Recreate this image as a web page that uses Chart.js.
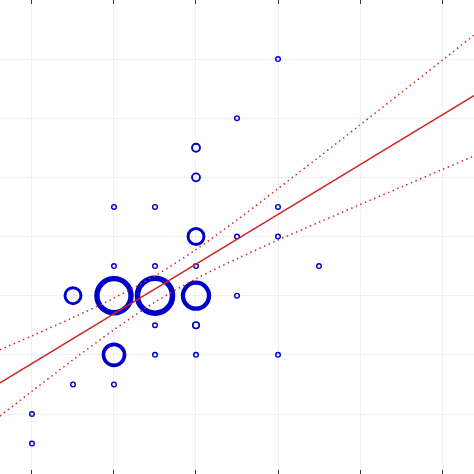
<!DOCTYPE html>
<html>
<head>
<meta charset="utf-8">
<script src="https://cdn.jsdelivr.net/npm/chart.js@4/dist/chart.umd.min.js"></script>
<style>
  html, body { margin: 0; padding: 0; background: #fff; }
</style>
</head>
<body>
<canvas id="myChart" width="474" height="474"></canvas>
<script>
// observations (x, y) and how many cases sit on each spot
const xs = [6, 5, 4, 4, 2, 3, 6, 4, 5, 6, 2, 3, 4, 7, 1, 2, 3, 4, 5, 3, 4, 2, 3, 4, 6, 1, 2, 0, 0];
const ys = [12, 10, 9, 8, 7, 7, 7, 6, 6, 6, 5, 5, 5, 5, 4, 4, 4, 4, 4, 3, 3, 2, 2, 2, 2, 1, 1, 0, -1];
const counts = [1, 1, 3, 3, 1, 1, 1, 12, 1, 1, 1, 1, 1, 1, 12, 55, 58, 32, 1, 1, 2, 21, 1, 1, 1, 1, 1, 1, 1];

// regression line and its confidence band
const fitX = [-0.78, 10.78];
const fitY = [1.05, 10.76];
const bandX = [-0.78, 0, 1, 2, 3, 4, 5, 6, 7, 8, 9, 10, 10.78];
const bandUpper = [2.17, 2.64, 3.26, 3.92, 4.67, 5.56, 6.56, 7.62, 8.69, 9.77, 10.86, 11.95, 12.81];
const bandLower = [-0.07, 0.77, 1.83, 2.85, 3.78, 4.57, 5.25, 5.88, 6.48, 7.08, 7.67, 8.26, 8.72];

const xTicks = [0, 2, 4, 6, 8, 10];
const yTicks = [0, 2, 4, 6, 8, 10, 12];

const blue = "rgb(0, 0, 205)";
const red = "rgb(210, 35, 35)";

const pts = xs.map((x, i) => ({ x: x, y: ys[i], n: counts[i] }));
const toXY = (xa, ya) => xa.map((x, i) => ({ x: x, y: ya[i] }));

// ring size and thickness grow with the count
const radiusOf = (ctx) => 2.3 * Math.sqrt(ctx.raw ? ctx.raw.n : 1);
const widthOf = (ctx) => 0.8 + 0.27 * radiusOf(ctx);

const setTicks = (list) => (scale) => {
  scale.ticks = list.map((v) => ({ value: v }));
};

const bandLine = (data) => ({
  type: "line",
  data: data,
  borderColor: red,
  borderWidth: 1.5,
  borderDash: [1.5, 3.5],
  pointRadius: 0,
  tension: 0.3,
  fill: false,
  order: 0,
});

new Chart("myChart", {
  type: "scatter",
  data: {
    datasets: [
      {
        type: "line",
        data: toXY(fitX, fitY),
        borderColor: red,
        borderWidth: 1.5,
        pointRadius: 0,
        fill: false,
        order: 0,
      },
      bandLine(toXY(bandX, bandUpper)),
      bandLine(toXY(bandX, bandLower)),
      {
        data: pts,
        borderColor: blue,
        backgroundColor: "rgba(0,0,0,0)",
        pointRadius: radiusOf,
        pointBorderWidth: widthOf,
        order: 1,
      },
    ],
  },
  options: {
    responsive: false,
    animation: false,
    layout: { padding: 0, autoPadding: false },
    plugins: { legend: { display: false }, tooltip: { enabled: false } },
    scales: {
      x: {
        type: "linear",
        position: "bottom",
        min: -0.78,
        max: 10.78,
        afterBuildTicks: setTicks(xTicks),
        ticks: { display: false },
        border: { display: false },
        grid: { color: "rgba(0,0,0,0.06)", tickColor: "#333", tickLength: 4 },
      },
      xTop: {
        type: "linear",
        position: "top",
        min: -0.78,
        max: 10.78,
        afterBuildTicks: setTicks(xTicks),
        ticks: { display: false },
        border: { display: false },
        grid: { drawOnChartArea: false, tickColor: "#333", tickLength: 4 },
      },
      y: {
        type: "linear",
        min: -1.893,
        max: 13.861,
        afterBuildTicks: setTicks(yTicks),
        ticks: { display: false },
        border: { display: false },
        grid: { color: "rgba(0,0,0,0.06)", drawTicks: false },
      },
    },
  },
});
</script>
</body>
</html>
